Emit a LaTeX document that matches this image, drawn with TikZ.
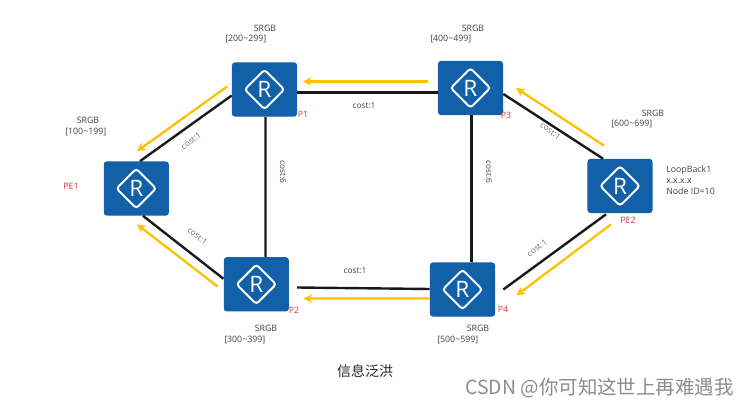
\documentclass[tikz,border=0pt]{standalone}
\usepackage{fontspec}
\setmainfont{Open Sans}
\newfontfamily\cjk{Noto Sans CJK SC}
\usetikzlibrary{arrows.meta}
\definecolor{routerblue}{HTML}{1160A8}
\definecolor{flood}{HTML}{FFC000}
\definecolor{linktext}{HTML}{404040}
\definecolor{costgray}{HTML}{707070}
\definecolor{markred}{HTML}{D9303A}
\tikzset{
  router/.style={rectangle,rounded corners=2.2pt,fill=routerblue,draw=none,
    minimum width=48.8pt,minimum height=40.6pt,inner sep=0pt,text=white,
    font=\fontsize{17}{17}\selectfont,
    path picture={\draw[white,line width=1.5pt,line join=miter]
      (path picture bounding box.center) +(-14.8pt,0) -- +(0,14.8pt) -- +(14.8pt,0) -- +(0,-14.8pt) -- cycle;}},
  link/.style={draw=black!90,line width=1.8pt},
  floodarrow/.style={draw=flood,line width=1.7pt,-{Stealth[length=6.5pt,width=6.5pt]}},
  info/.style={font=\fontsize{6.6}{8.4}\selectfont,text=linktext,inner sep=0pt},
  rangetext/.style={info,anchor=west},
  cost/.style={font=\fontsize{6.2}{7}\selectfont,text=linktext,inner sep=0pt},
  costb/.style={font=\fontsize{6.2}{7}\selectfont,text=costgray,inner sep=0pt},
  tag/.style={font=\fontsize{6.6}{8}\selectfont,text=markred,inner sep=0pt}
}
\begin{document}
\begin{tikzpicture}[x=0.75pt,y=-0.75pt]
\useasboundingbox (0,0) rectangle (750,407);
% routers
\node[router] (p1) at (264.5,89.5) {R};
\node[router] (p3) at (470.5,88) {R};
\node[router] (pe2) at (620,186) {R};
\node[router] (pe1) at (136.3,188.5) {R};
\node[router] (p2) at (256.3,284.3) {R};
\node[router] (p4) at (462.5,289.5) {R};
% links
\draw[link] ([shift={(0,3)}]p1.east) -- ([shift={(0,4.5)}]p3.west);
\draw[link] ([shift={(0,6)}]p1.west) -- ([shift={(3.7,0)}]pe1.north);
\draw[link] ([shift={(0,6)}]p3.east) -- ([shift={(-17,0)}]pe2.north);
\draw[link] ([shift={(6.7,0)}]pe1.south) -- ([shift={(0,-5.5)}]p2.west);
\draw[link] ([shift={(1,0)}]p1.south) -- ([shift={(9.2,0)}]p2.north);
\draw[link] ([shift={(1,0)}]p3.south) -- ([shift={(9,0)}]p4.north);
\draw[link] ([shift={(8,3.2)}]p2.east) -- ([shift={(0,-0.5)}]p4.west);
\draw[link] ([shift={(8,0)}]p4.east) -- ([shift={(-14,1)}]pe2.south);
% flood arrows
\draw[floodarrow] ([shift={(-9.5,-6.5)}]p3.west) -- ([shift={(5.5,-8)}]p1.east);
\draw[floodarrow] ([shift={(-4.5,-3)}]p1.west) -- ([shift={(0.7,-10)}]pe1.north);
\draw[floodarrow] ([shift={(-16,-13)}]pe2.north) -- ([shift={(12.8,0)}]p3.east);
\draw[floodarrow] ([shift={(-6,2.2)}]p2.west) -- ([shift={(0.7,8.5)}]pe1.south);
\draw[floodarrow] ([shift={(0,9)}]p4.west) -- ([shift={(14.3,14.2)}]p2.east);
\draw[floodarrow] ([shift={(-9,11)}]pe2.south) -- ([shift={(21,6)}]p4.east);
% SRGB labels
\node[info] (s1) at (265,28) {SRGB};
\node[rangetext] (r1) at (225,39) {[200\textasciitilde299]};
\node[info] (s0) at (88,120) {SRGB};
\node[rangetext] (r0) at (65,132) {[100\textasciitilde199]};
\node[info] (s3) at (473,28) {SRGB};
\node[rangetext] (r3) at (430,39) {[400\textasciitilde499]};
\node[info] (s5) at (653,113) {SRGB};
\node[rangetext] (r5) at (611,124) {[600\textasciitilde699]};
\node[info] (s2) at (266,328) {SRGB};
\node[rangetext] (r2) at (224,340) {[300\textasciitilde399]};
\node[info] (s4) at (478,328) {SRGB};
\node[rangetext] (r4) at (437,340) {[500\textasciitilde599]};
\node[info,align=left,anchor=north west] (lb) at (666,165.5) {LoopBack1\\x.x.x.x\\Node ID=10};
% tags
\node[tag] (t1) at (303,114) {P1};
\node[tag] (t2) at (294,310.5) {P2};
\node[tag] (t3) at (506,115.5) {P3};
\node[tag] (t4) at (503,309) {P4};
\node[tag] (t5) at (628,220) {PE2};
\node[tag] (t0) at (71,186) {PE1};
% cost labels
\node[cost] (c1) at (364,105.5) {cost:1};
\node[cost] (c2) at (355,271) {cost:1};
\node[costb,rotate=-37] (c3) at (550.5,131) {cost:1};
\node[costb,rotate=-38] (c4) at (197.5,236) {cost:1};
\node[costb,rotate=37] (c5) at (191,141) {cost:1};
\node[costb,rotate=37] (c6) at (537,248) {cost:1};
\node[cost,rotate=-90] (c7) at (283,172) {cost:6};
\node[cost,rotate=-90] (c8) at (489,172) {cost:6};
% captions
\node[font=\cjk\fontsize{10.5}{12}\selectfont,text=black!85,inner sep=0pt] (cap) at (365,371) {信息泛洪};
\node[font=\cjk\fontsize{14.6}{16}\selectfont,text=black!45,inner sep=0pt,anchor=east] (wm) at (734,388) {CSDN @你可知这世上再难遇我};
\end{tikzpicture}
\end{document}
